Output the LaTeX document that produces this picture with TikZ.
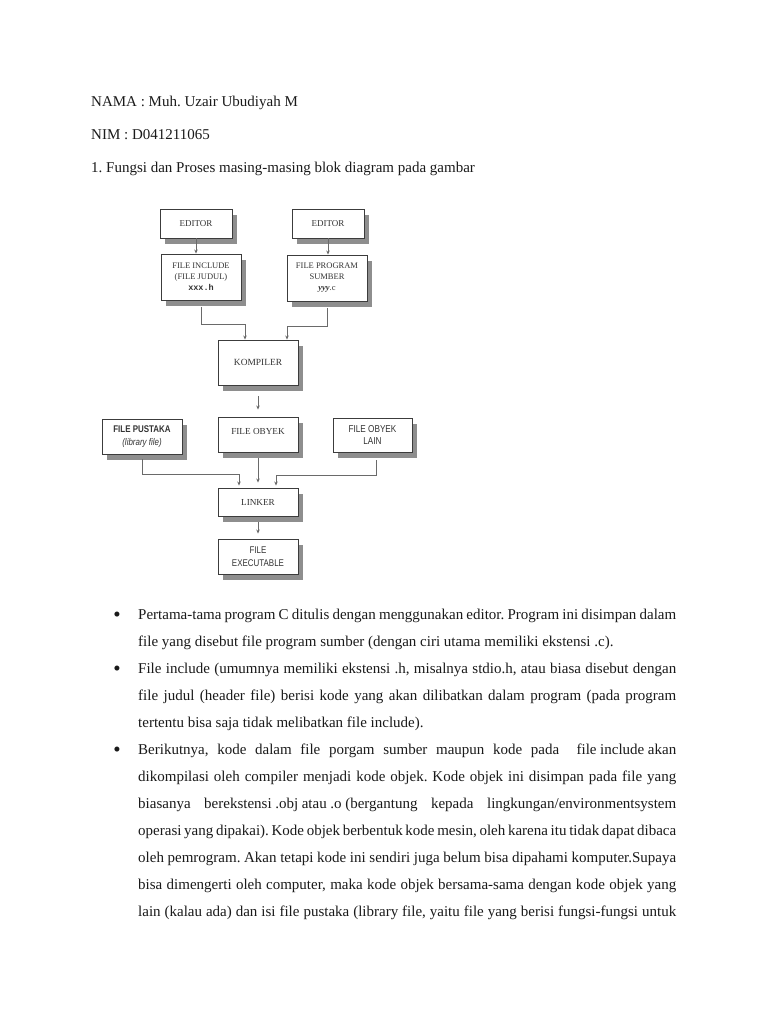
\documentclass[tikz,border=0pt]{standalone}
\usepackage{fontspec}
\setmainfont{Liberation Serif}
\setmonofont{Liberation Mono}
\newfontfamily\narrowsans[FakeStretch=0.82]{Liberation Sans}
\usetikzlibrary{shadows,arrows.meta}
\definecolor{boxtext}{HTML}{333333}
\definecolor{boxline}{HTML}{3C3C3C}
\definecolor{connc}{HTML}{6A6A6A}
\definecolor{shade}{HTML}{8E8E8E}
\definecolor{bodytext}{HTML}{1A1A1A}
\newcommand\jl[1]{\makebox[538pt][s]{#1}}
\newcommand\fs{\hspace{3.6pt}}
\frenchspacing
\begin{document}
\begin{tikzpicture}[x=1pt,y=-1pt,
  blk/.style={draw=boxline, line width=0.9pt, fill=white, inner sep=1pt, align=center,
    text=boxtext, font=\fontsize{8.5}{11}\selectfont,
    drop shadow={shadow xshift=5pt, shadow yshift=-6pt, fill=shade, opacity=1}},
  sblk/.style={blk, font=\narrowsans\fontsize{10}{12.5}\selectfont},
  connline/.style={draw=connc, line width=0.7pt},
  arr/.style={connline, -{Stealth[length=4pt,width=3.5pt]}},
  txt/.style={inner sep=0pt, anchor=base west, text=bodytext, font=\fontsize{15}{18}\selectfont},
  bul/.style={inner sep=0pt, anchor=base, text=bodytext, font=\fontsize{21}{18}\selectfont}
]
\fill[white] (0,0) rectangle (768,1024);
\useasboundingbox (0,0) rectangle (768,1024);

% header
\node[txt] (h1) at (91,107) {NAMA : Muh. Uzair Ubudiyah M};
\node[txt] (h2) at (91,140) {NIM : D041211065};
\node[txt] (h3) at (91,173) {1. Fungsi dan Proses masing-masing blok diagram pada gambar};

% diagram
\node[blk, minimum width=72pt, minimum height=29pt, font=\fontsize{9}{11}\selectfont] (ed1) at (196,223.5) {EDITOR};
\node[blk, minimum width=72pt, minimum height=29pt, font=\fontsize{9}{11}\selectfont] (ed2) at (328,223.5) {EDITOR};
\node[blk, minimum width=80pt, minimum height=46pt] (inc) at (201,277) {FILE INCLUDE\\(FILE JUDUL)\\{\ttfamily\bfseries xxx.h}};
\node[blk, minimum width=80pt, minimum height=46pt] (src) at (327,278) {FILE PROGRAM\\SUMBER\\{\bfseries\itshape yyy}.c};
\node[blk, minimum width=80pt, minimum height=45pt, font=\fontsize{9.4}{11}\selectfont] (komp) at (258,362.5) {KOMPILER};
\node[sblk, minimum width=80pt, minimum height=35pt, font=\narrowsans\fontsize{9.7}{12.5}\selectfont] (pus) at (142,436.5) {{\bfseries FILE PUSTAKA}\\{\itshape (library file)}};
\node[blk, minimum width=80pt, minimum height=35pt, font=\fontsize{9.2}{11}\selectfont] (obj) at (258,434.5) {\raisebox{7pt}{FILE OBYEK}};
\node[sblk, minimum width=79pt, minimum height=34pt] (lain) at (372.5,435) {FILE OBYEK\\LAIN};
\node[blk, minimum width=80pt, minimum height=28pt, font=\fontsize{9.2}{11}\selectfont] (link) at (258,502) {LINKER};
\node[sblk, minimum width=80pt, minimum height=35pt, font=\narrowsans\fontsize{9.7}{12.5}\selectfont] (exe) at (258,556.5) {FILE\\EXECUTABLE};

\draw[arr] (ed1.south) -- (ed1.south |- inc.north);
\draw[arr] (ed2.south) -- (ed2.south |- src.north);
\draw[arr] ([yshift=-7pt]inc.south) -- ++(0,17) -| ([xshift=-13pt]komp.north);
\draw[arr] ([yshift=-7pt]src.south) -- ++(0,18) -| ([xshift=29pt]komp.north);
\draw[arr] ([yshift=-11pt]komp.south) -- ([yshift=7pt]obj.north);
\draw[arr] ([yshift=-5pt]pus.south) -- ++(0,15) -| ([xshift=-19pt,yshift=2pt]link.north);
\draw[arr] ([yshift=-6pt]obj.south) -- ([yshift=5pt]link.north);
\draw[arr] ([xshift=4pt,yshift=-8pt]lain.south) -- ++(0,15) -| ([xshift=18pt,yshift=2pt]link.north);
\draw[arr] ([yshift=-6pt]link.south) -- ([yshift=5pt]exe.north);

% bullets text
\node[bul] (b1) at (117,621) {•};
\node[txt] (l1) at (138,619) {\jl{Pertama-tama program C ditulis dengan menggunakan editor. Program ini disimpan dalam}};
\node[txt] (l2) at (138,646) {file yang disebut file program sumber (dengan ciri utama memiliki ekstensi .c).};
\node[bul] (b2) at (117,675) {•};
\node[txt] (l3) at (138,673) {\jl{File include (umumnya memiliki ekstensi .h, misalnya stdio.h, atau biasa disebut dengan}};
\node[txt] (l4) at (138,700) {\jl{file judul (header file) berisi kode yang akan dilibatkan dalam program (pada program}};
\node[txt] (l5) at (138,727) {tertentu bisa saja tidak melibatkan file include).};
\node[bul] (b3) at (117,756) {•};
\node[txt] (l6) at (138,754) {\jl{Berikutnya, kode dalam file porgam sumber maupun kode pada \ file\fs include\fs akan}};
\node[txt] (l7) at (138,781) {\jl{dikompilasi oleh compiler menjadi kode objek. Kode objek ini disimpan pada file yang}};
\node[txt] (l8) at (138,808) {\jl{biasanya berekstensi\fs.obj\fs atau\fs.o\fs(bergantung kepada lingkungan/environmentsystem}};
\node[txt] (l9) at (138,835) {\jl{operasi yang dipakai). Kode objek berbentuk kode mesin, oleh karena itu tidak dapat dibaca}};
\node[txt] (l10) at (138,862) {\jl{oleh pemrogram. Akan tetapi kode ini sendiri juga belum bisa dipahami komputer.Supaya}};
\node[txt] (l11) at (138,889) {\jl{bisa dimengerti oleh computer, maka kode objek bersama-sama dengan kode objek yang}};
\node[txt] (l12) at (138,916) {\jl{lain (kalau ada) dan isi file pustaka (library file, yaitu file yang berisi fungsi-fungsi untuk}};
\end{tikzpicture}
\end{document}
